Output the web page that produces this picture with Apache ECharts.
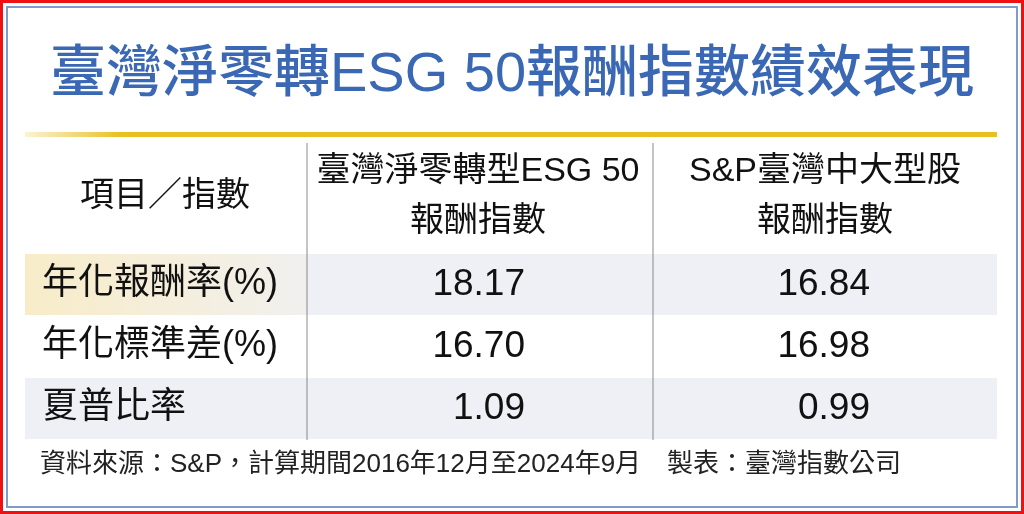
<!DOCTYPE html>
<html><head><meta charset="utf-8">
<script src="https://cdn.jsdelivr.net/npm/echarts@6/dist/echarts.min.js"></script>
<style>html,body{margin:0;padding:0;background:#fff}#c{width:1024px;height:514px}</style>
</head><body><div id="c"></div>
<script>
const titleText = '臺灣淨零轉ESG 50報酬指數績效表現';
const headers = [['項目／指數'], ['臺灣淨零轉型ESG 50', '報酬指數'], ['S&P臺灣中大型股', '報酬指數']];
const rowLabels = ['年化報酬率(%)', '年化標準差(%)', '夏普比率'];
const esgValues = ['18.17', '16.70', '1.09'];
const spValues = ['16.84', '16.98', '0.99'];
const footnote = '資料來源：S&P，計算期間2016年12月至2024年9月　製表：臺灣指數公司';

const F = '"Liberation Sans","Noto Sans CJK TC",sans-serif';
const g = [];
g.push({type:'rect',shape:{x:1.5,y:1.5,width:1021,height:511},style:{fill:'none',stroke:'#ee1111',lineWidth:3}});
g.push({type:'rect',shape:{x:7,y:7,width:1010,height:500},style:{fill:'#fff',stroke:'#7f9cc8',lineWidth:2}});
g.push({type:'text',x:512,y:76,style:{text:titleText,font:'500 56px '+F,fill:'#3a68b4',align:'center',verticalAlign:'middle'}});
g.push({type:'rect',shape:{x:25,y:132,width:972,height:5},style:{fill:new echarts.graphic.LinearGradient(0,0,1,0,[{offset:0,color:'#fbf3d6'},{offset:0.1,color:'#e8c020'},{offset:1,color:'#e8c020'}])}});
const rowTop=[254,316,378], rowH=61;
rowTop.forEach((y,i)=>{
  if(i!==1) g.push({type:'rect',shape:{x:25,y:y,width:972,height:rowH},style:{fill:'#eef0f5'}});
  if(i===0) g.push({type:'rect',shape:{x:25,y:y,width:282,height:rowH},style:{fill:new echarts.graphic.LinearGradient(0,0,1,0,[{offset:0,color:'#f8ecc8'},{offset:1,color:'#f1f0ee'}])}});
});
[307,653].forEach(x=>g.push({type:'line',shape:{x1:x,y1:143,x2:x,y2:440},style:{stroke:'#888',lineWidth:1}}));
const colC=[165,478,825];
headers.forEach((h,i)=>{
  h.forEach((t,j)=>{
    const y = h.length===1?197:(j===0?172:222);
    g.push({type:'text',x:colC[i],y:y,style:{text:t,font:'34px '+F,fill:'#111',align:'center',verticalAlign:'middle'}});
  });
});
const rowC=rowTop.map(y=>y+rowH/2);
rowLabels.forEach((t,i)=>g.push({type:'text',x:42,y:rowC[i],style:{text:t,font:'36px '+F,fill:'#111',verticalAlign:'middle'}}));
esgValues.forEach((t,i)=>g.push({type:'text',x:525,y:rowC[i],style:{text:t,font:'37px '+F,fill:'#111',align:'right',verticalAlign:'middle'}}));
spValues.forEach((t,i)=>g.push({type:'text',x:870,y:rowC[i],style:{text:t,font:'37px '+F,fill:'#111',align:'right',verticalAlign:'middle'}}));
g.push({type:'text',x:40,y:465,style:{text:footnote,font:'26px '+F,fill:'#222',verticalAlign:'middle'}});
const chart=echarts.init(document.getElementById('c'));
chart.setOption({animation:false,graphic:g});
</script></body></html>
